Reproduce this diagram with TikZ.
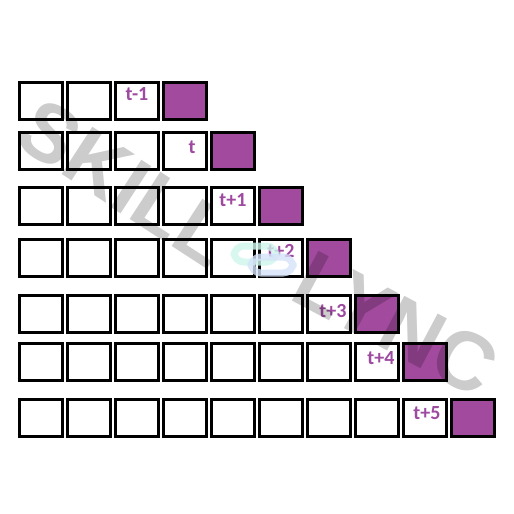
\documentclass[tikz,border=0pt]{standalone}
\usepackage{fontspec}
\usepackage{xcolor}
\usepackage{tikz}
\usetikzlibrary{positioning,calc}
\newfontfamily\cellfont{Carlito}
\newfontfamily\markfont{Liberation Sans}
\definecolor{cellpurple}{HTML}{A24A9E}
\definecolor{labelpurple}{HTML}{9E4AA0}
\definecolor{linkcyan}{HTML}{CDF5EC}
\definecolor{linkblue}{HTML}{D5E3FA}

\begin{document}
\begin{tikzpicture}[
    x=0.5pt, y=-0.5pt,
    cell/.style={rectangle, draw=black, line width=1.5pt, fill=white, minimum width=21.5pt, minimum height=18.5pt, inner sep=0pt},
    filled/.style={cell, fill=cellpurple},
    tlabel/.style={font=\cellfont\bfseries\fontsize{10}{10}\selectfont, text=labelpurple, inner sep=0pt},
    wmark/.style={font=\markfont\bfseries\fontsize{41}{41}\selectfont, text=black, opacity=0.2, inner sep=0pt},
    link/.style={line width=3.5pt, rounded corners=5pt}
]
    \useasboundingbox (0,0) rectangle (514,514);

    % Rows of cells: row / centre y
    \foreach \r/\y in {1/101, 2/150.5, 3/206, 4/257.5, 5/313.5, 6/362, 7/417.5} {
        \pgfmathtruncatemacro{\n}{\r+2}
        \pgfmathtruncatemacro{\m}{\r+3}
        \foreach \c in {1,...,\n}
            \node[cell] (c\r-\c) at ({41+48*(\c-1)}, \y) {};
        % purple cell at the end of the row
        \node[filled] (c\r-\m) at ({41+48*(\m-1)}, \y) {};
    }

    % Time labels
    \node[tlabel] (l1) at ($(c1-3)+(0,-7)$) {t-1};
    \node[tlabel] (l2) at ($(c2-4)+(7,-3)$) {t};
    \node[tlabel] (l3) at ($(c3-5)+(0,-6)$) {t+1};
    \node[tlabel] (l4) at ($(c4-6)+(0,-6)$) {t+2};
    \node[tlabel] (l5) at ($(c5-7)+(4,-2)$) {t+3};
    \node[tlabel] (l6) at ($(c6-8)+(4,-4)$) {t+4};
    \node[tlabel] (l7) at ($(c7-9)+(2,-4)$) {t+5};

    % Watermark
    \draw[link, linkcyan, opacity=0.8] (234,246) rectangle (276,262);
    \draw[link, linkblue, opacity=0.8] (251,257) rectangle (293,273);
    \node[wmark, rotate=-33] (skill) at (126,183) {SKILL};
    \node[wmark, rotate=-28] (lync) at (396,324) {LYNC};
\end{tikzpicture}
\end{document}
